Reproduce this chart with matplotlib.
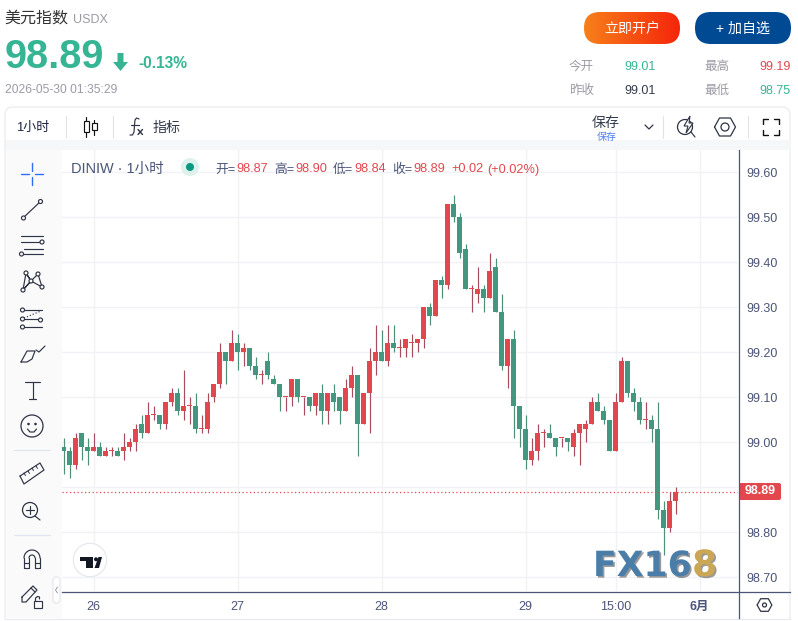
import numpy as np
import matplotlib
matplotlib.use("Agg")
import matplotlib.pyplot as plt
from matplotlib.patches import Circle, FancyBboxPatch, Rectangle, Polygon
import matplotlib.patheffects as pe

plt.rcParams['font.family'] = ['Liberation Sans', 'Noto Sans CJK SC', 'DejaVu Sans']

opens = [98.99, 98.98, 98.95, 99.02, 98.99, 98.98, 98.99, 98.97, 98.98, 98.98,
         98.98, 98.99, 99.00, 99.04, 99.02, 99.06, 99.06, 99.04, 99.09, 99.11,
         99.07, 99.08, 99.08, 99.03, 99.03, 99.10, 99.13, 99.20, 99.18, 99.22,
         99.20, 99.21, 99.17, 99.15, 99.18, 99.14, 99.13, 99.10, 99.10, 99.14,
         99.10, 99.10, 99.08, 99.11, 99.07, 99.11, 99.10, 99.07, 99.12, 99.15,
         99.04, 99.11, 99.18, 99.20, 99.18, 99.22, 99.21, 99.21, 99.22, 99.22,
         99.23, 99.30, 99.28, 99.36, 99.35, 99.53, 99.50, 99.43, 99.34, 99.33,
         99.34, 99.32, 99.39, 99.29, 99.17, 99.23, 99.08, 99.03, 98.96, 98.98,
         99.02, 99.02, 99.01, 99.01, 99.01, 98.99, 99.02, 99.03, 99.04, 99.09,
         99.07, 99.05, 98.98, 99.09, 99.18, 99.11, 99.09, 99.05, 99.05, 99.03,
         98.85, 98.81, 98.87]
highs = [99.01, 98.99, 99.02, 99.02, 99.01, 99.02, 99.00, 98.99, 98.99, 98.99,
         99.02, 99.01, 99.04, 99.06, 99.09, 99.08, 99.06, 99.09, 99.12, 99.12,
         99.16, 99.10, 99.11, 99.06, 99.11, 99.13, 99.22, 99.20, 99.25, 99.24,
         99.22, 99.21, 99.19, 99.16, 99.20, 99.15, 99.13, 99.10, 99.14, 99.14,
         99.10, 99.10, 99.11, 99.13, 99.11, 99.13, 99.10, 99.14, 99.17, 99.15,
         99.11, 99.21, 99.26, 99.25, 99.26, 99.26, 99.23, 99.23, 99.24, 99.23,
         99.30, 99.31, 99.36, 99.37, 99.53, 99.55, 99.51, 99.44, 99.35, 99.39,
         99.35, 99.42, 99.41, 99.33, 99.23, 99.25, 99.08, 99.06, 99.01, 99.04,
         99.03, 99.04, 99.01, 99.01, 99.01, 99.03, 99.04, 99.05, 99.10, 99.11,
         99.08, 99.05, 99.11, 99.19, 99.18, 99.12, 99.10, 99.09, 99.06, 99.09,
         98.87, 98.89, 98.90]
lows = [98.93, 98.92, 98.94, 98.96, 98.95, 98.98, 98.97, 98.97, 98.97, 98.97,
        98.96, 98.98, 98.98, 99.01, 99.02, 99.05, 99.03, 99.03, 99.08, 99.06,
        99.05, 99.04, 99.02, 99.02, 99.02, 99.09, 99.12, 99.13, 99.18, 99.16,
        99.17, 99.16, 99.14, 99.13, 99.14, 99.13, 99.07, 99.07, 99.08, 99.09,
        99.06, 99.07, 99.06, 99.04, 99.04, 99.07, 99.04, 99.07, 99.10, 98.97,
        99.04, 99.02, 99.15, 99.18, 99.17, 99.20, 99.19, 99.19, 99.19, 99.20,
        99.21, 99.26, 99.28, 99.32, 99.34, 99.49, 99.41, 99.34, 99.29, 99.31,
        99.29, 99.32, 99.29, 99.16, 99.12, 99.01, 98.99, 98.94, 98.95, 98.96,
        98.99, 99.01, 98.97, 98.99, 98.98, 98.97, 98.95, 99.00, 99.04, 99.07,
        99.04, 98.98, 98.98, 99.09, 99.10, 99.07, 99.04, 99.03, 99.00, 98.83,
        98.75, 98.80, 98.84]
closes = [98.98, 98.95, 99.01, 98.99, 98.98, 98.99, 98.97, 98.98, 98.98, 98.97,
          98.99, 99.00, 99.03, 99.02, 99.06, 99.06, 99.04, 99.09, 99.11, 99.07,
          99.08, 99.08, 99.03, 99.03, 99.09, 99.13, 99.20, 99.18, 99.22, 99.20,
          99.21, 99.17, 99.15, 99.15, 99.15, 99.13, 99.10, 99.10, 99.14, 99.10,
          99.10, 99.08, 99.11, 99.07, 99.11, 99.09, 99.07, 99.12, 99.15, 99.04,
          99.11, 99.18, 99.20, 99.18, 99.22, 99.21, 99.21, 99.23, 99.22, 99.23,
          99.30, 99.28, 99.36, 99.35, 99.53, 99.50, 99.42, 99.34, 99.34, 99.34,
          99.32, 99.38, 99.29, 99.17, 99.23, 99.08, 99.03, 98.96, 98.98, 99.02,
          99.02, 99.01, 98.99, 99.01, 99.00, 99.02, 99.04, 99.04, 99.09, 99.07,
          99.05, 98.98, 99.09, 99.18, 99.11, 99.09, 99.05, 99.05, 99.03, 98.85,
          98.81, 98.87, 98.89]

price_ticks = [98.70, 98.80, 98.90, 99.00, 99.10, 99.20, 99.30, 99.40, 99.50, 99.60]
time_positions = [5, 29, 53, 77, 92, 106]
time_labels = ["26", "27", "28", "29", "15:00", "6月"]
last_price = 98.89

UP = "#e2474e"
DOWN = "#44977f"
UP_WICK = "#a64d5d"
DOWN_WICK = "#4f8f76"
DARK = "#4a5578"
GREEN = "#35b593"
GREY = "#9a9aa5"
GRID = "#f1f2f5"

W, H = 798, 621
fig = plt.figure(figsize=(W / 100, H / 100), dpi=100, facecolor="white")


def px_axes(left, top, right, bottom):
    return fig.add_axes([left / W, 1 - bottom / H, (right - left) / W, (bottom - top) / H])


# background ui, chart, then overlay on top
bg = fig.add_axes([0, 0, 1, 1], zorder=0)
bg.set_xlim(0, W)
bg.set_ylim(H, 0)
bg.axis("off")

ax = px_axes(62, 150, 738, 591)
ax.set_zorder(1)
ax.patch.set_alpha(0)
ax.set_xlim((62 - 63.6) / 6, (738 - 63.6) / 6)
ax.set_ylim(99 + (442.3 - 591) / 450, 99 + (442.3 - 150) / 450)

ui = fig.add_axes([0, 0, 1, 1], zorder=2)
ui.set_xlim(0, W)
ui.set_ylim(H, 0)
ui.axis("off")
ui.patch.set_alpha(0)

# panel
bg.add_patch(FancyBboxPatch((5, 107), 785, 540, boxstyle="round,pad=0,rounding_size=8",
                            fc="white", ec="#e8e9ee", lw=0.8))
bg.add_patch(Rectangle((5.5, 140), 784, 10, fc="#f6f7f9", ec="none"))
bg.add_patch(Rectangle((5.5, 150), 56, 468, fc="#fafafb", ec="none"))
bg.add_patch(Rectangle((0, 619), W, 2, fc="white", ec="none", zorder=5))
bg.plot([5, 790], [618.5, 618.5], color="#e8e9ee", lw=0.8, zorder=6)

# candles
idx = np.arange(len(opens))
o = np.array(opens)
h = np.array(highs)
l = np.array(lows)
c = np.array(closes)
rising = c >= o
px_price = 1 / 450
ax.vlines(idx[rising], l[rising], h[rising], color=UP_WICK, lw=0.85, zorder=3)
ax.vlines(idx[~rising], l[~rising], h[~rising], color=DOWN_WICK, lw=0.85, zorder=3)
heights = np.maximum(np.abs(c - o), px_price)
bottoms = np.minimum(o, c)
ax.bar(idx[rising], heights[rising], bottom=bottoms[rising], width=5 / 6, color=UP, lw=0, zorder=4)
ax.bar(idx[~rising], heights[~rising], bottom=bottoms[~rising], width=5 / 6, color=DOWN, lw=0, zorder=4)

ax.axhline(last_price, color="#e2474e", lw=0.9, ls=(0, (1, 2)), zorder=5)

ax.set_yticks(price_ticks)
ax.set_yticklabels([f"{p:.2f}" for p in price_ticks])
ax.set_xticks(time_positions)
ax.set_xticklabels(time_labels)
ax.yaxis.tick_right()
ax.tick_params(axis="both", length=0, labelsize=9, labelcolor=DARK)
ax.tick_params(axis="y", pad=6)
ax.tick_params(axis="x", pad=7)
ax.grid(True, color=GRID, lw=1)
ax.set_axisbelow(True)
for s in ax.spines.values():
    s.set_visible(False)
ax.get_xticklabels()[-1].set_fontweight("bold")

# axis frame
ui.plot([738.5, 738.5], [150, 618], color=DARK, lw=0.9)
ui.plot([62, 790], [591.5, 591.5], color=DARK, lw=0.9)

# last price tag
ui.add_patch(FancyBboxPatch((739, 483), 42, 17, boxstyle="round,pad=0,rounding_size=2", fc="#e2474e", ec="none"))
ui.text(760, 491.5, "98.89", color="white", fontsize=9, fontweight="bold", ha="center", va="center")


def t(x, y, s, size, color="#333333", ha="left", weight="normal", target=ui):
    return target.text(x, y + 1, s, fontsize=size * 0.72, color=color, ha=ha, va="center", fontweight=weight)


def pl(xs, ys, color="#2e3345", lw=0.85, **kw):
    ui.plot(xs, ys, color=color, lw=lw, solid_capstyle="round", **kw)


def dot(x, y, r=2.2, color="#2e3345", fc="white", lw=0.85):
    ui.add_patch(Circle((x, y), r, fc=fc, ec=color, lw=lw, zorder=4))


# header
t(4.5, 17, "美元指数", 16, "#333333")
t(73, 19, "USDX", 12.5, GREY)
t(4.5, 56, "98.89", 39.8, GREEN, weight="bold")
ui.add_patch(Polygon([(117.5, 53), (123.5, 53), (123.5, 62), (128, 62), (120.5, 71), (113, 62), (117.5, 62)], fc=GREEN, ec="none"))
t(138, 63, "-0.13%", 15.5, GREEN, weight="bold")
t(5, 89, "2026-05-30 01:35:29", 12, GREY)

# buttons
btn = FancyBboxPatch((584, 12), 96, 32, boxstyle="round,pad=0,rounding_size=16", fc="none", ec="none")
ui.add_patch(btn)
grad = ui.imshow(np.linspace(0, 1, 96).reshape(1, -1), extent=(584, 680, 44, 12), aspect="auto",
                 cmap=matplotlib.colors.LinearSegmentedColormap.from_list("b", ["#f7801a", "#f5250a"]), zorder=2)
grad.set_clip_path(btn)
ui.set_xlim(0, W)
ui.set_ylim(H, 0)
t(632, 27.5, "立即开户", 14, "white", ha="center").set_zorder(5)
ui.add_patch(FancyBboxPatch((695, 12), 96, 32, boxstyle="round,pad=0,rounding_size=16", fc="#004a94", ec="none"))
t(743, 27.5, "+ 加自选", 14, "white", ha="center")

# stats
t(569, 66, "今开", 12.5, GREY)
t(624, 66, "99.01", 12.5, GREEN)
t(704, 66, "最高", 12.5, GREY)
t(759, 66, "99.19", 12.5, "#e2474e")
t(569, 90, "昨收", 12.5, GREY)
t(624, 90, "99.01", 12.5, "#333a4d")
t(704, 90, "最低", 12.5, GREY)
t(759, 90, "98.75", 12.5, GREEN)

# toolbar
t(16, 127, "1小时", 13, "#1a2340")
for x in [66, 113, 663, 748]:
    pl([x, x], [116, 138], color="#e0e2ea", lw=0.8)
pl([86, 86], [117, 137], color="#111111")
ui.add_patch(Rectangle((83.5, 121), 5, 11, fc="white", ec="#111111", lw=0.85, zorder=4))
pl([94, 94], [120, 135], color="#111111")
ui.add_patch(Rectangle((91.5, 123), 5, 7, fc="white", ec="#111111", lw=0.85, zorder=4))
# fx icon
pl([139, 136.5, 135, 134.5, 134, 132.5, 130], [119, 118, 120, 125, 132, 135, 135])
pl([130.5, 138.5], [125, 125])
pl([138, 142.5], [129.5, 134.5], lw=1)
pl([142.5, 138], [129.5, 134.5], lw=1)
t(153, 127, "指标", 14, "#333a4d")
t(592, 122, "保存", 14, "#333a4d")
t(597, 136, "保存", 10, "#4f7df5")
pl([645, 649, 653], [125, 129, 125], lw=0.9)
# lightning lens
ui.add_patch(Circle((685, 127), 7.5, fc="none", ec="#2e3345", lw=0.9))
ui.add_patch(Polygon([(690, 116), (684, 126), (688, 126), (686, 133), (693, 123), (689, 123)], fc="white", ec="#2e3345", lw=0.8, zorder=4))
pl([691, 695], [132, 137])
# settings hex
hex_x = np.array([-10.5, -5.5, 5.5, 10.5, 5.5, -5.5, -10.5])
hex_y = np.array([0, -9, -9, 0, 9, 9, 0])
pl(725 + hex_x, 127 + hex_y, lw=0.9)
ui.add_patch(Circle((725, 127), 4, fc="none", ec="#2e3345", lw=0.9))
# fullscreen corners
for sx, sy in [(-1, -1), (1, -1), (-1, 1), (1, 1)]:
    pl([771 + sx * 8, 771 + sx * 8, 771 + sx * 3], [127 + sy * 3, 127 + sy * 8, 127 + sy * 8], color="#111111", lw=1)

# legend row
ui.text(71, 173, "DINIW · 1小时", fontsize=14.5 * 0.72, color=DARK, ha="left", va="baseline")
ui.add_patch(Circle((190, 167), 9, fc="#dff1ec", ec="none"))
ui.add_patch(Circle((190, 167), 4, fc="#089981", ec="none"))
legend_parts = [(215, "开=", DARK), (236, "98.87", UP), (274, "高=", DARK), (295, "98.90", UP),
                (333, "低=", DARK), (354, "98.84", UP), (392, "收=", DARK), (413, "98.89", UP),
                (451, "+0.02", UP), (487, "(+0.02%)", UP)]
for x, s, col in legend_parts:
    ui.text(x, 172.5, s, fontsize=12.8 * 0.72, color=col, ha="left", va="baseline")

# drawing tools
for xs, ys in [([21, 29], [174, 174]), ([35, 43], [174, 174]), ([32, 32], [163, 171]), ([32, 32], [177, 185])]:
    pl(xs, ys, color="#2f6df6", lw=1)
pl([23, 41], [218, 201])
dot(23.5, 218, 2)
dot(40.5, 201.5, 2)
for y, a, b in [(236, 21, 43), (242, 21, 41), (249, 24, 43), (254, 23, 43)]:
    pl([a, b], [y, y])
dot(42, 242, 2)
dot(21.5, 254, 2)
pts_x = [23, 26, 31, 38, 42]
pts_y = [290, 273, 281, 274, 287]
pl([23, 26, 31, 38, 42, 31, 23, 31, 26], [290, 273, 281, 274, 287, 281, 290, 281, 273])
for x, y in zip(pts_x, pts_y):
    dot(x, y, 2)
for y in [310, 319, 327]:
    pl([22, 42], [y, y])
    dot(22.5, y, 2)
dot(40.5, 320, 2)
pl([24, 41], [318, 311], ls=":")
pl([21, 27, 35, 32, 27, 21], [362, 351, 351, 359, 362, 362])
pl([36, 39, 45], [350, 352, 346])
pl([25, 40], [382, 382])
pl([32.5, 32.5], [382, 399])
pl([29, 36], [399, 399])
ui.add_patch(Circle((32, 426), 11, fc="none", ec="#2e3345", lw=0.9))
dot(28.5, 424, 0.7, fc="#2e3345")
dot(35.5, 424, 0.7, fc="#2e3345")
pl([27.5, 30, 34, 36.5], [429, 432, 432, 429])
pl([14, 50], [450, 450], color="#e3e5ee", lw=0.9)
pl([20, 40, 44, 24, 20], [476, 463, 470, 484, 476])
for x, y in [(24, 473), (28, 471), (32, 468), (36, 466)]:
    pl([x, x + 1.5], [y, y + 2.5], lw=0.7)
ui.add_patch(Circle((30, 510), 7.5, fc="none", ec="#2e3345", lw=0.9))
pl([26, 34], [510, 510])
pl([30, 30], [506, 514])
pl([35, 40], [516, 520])
pl([14, 50], [535, 535], color="#e3e5ee", lw=0.9)
a = np.linspace(np.pi, 2 * np.pi, 20)
pl(32 + 8 * np.cos(a), 558 + 8 * np.sin(a))
pl(32 + 3 * np.cos(a), 558 + 3 * np.sin(a))
pl([24, 24, 29, 29], [558, 568, 568, 558])
pl([35, 35, 40, 40], [558, 568, 568, 558])
pl([24, 29], [563, 563])
pl([35, 40], [563, 563])
# pencil and lock
pl([22, 33, 37, 26, 22, 22], [597, 586, 590, 602, 602, 597])
pl([31, 35], [588, 592])
ui.add_patch(Rectangle((33.5, 601), 8.5, 6.5, fc="white", ec="#2e3345", lw=0.85, zorder=4))
pl([35.5, 35.5, 37.5, 39.5, 39.5], [601, 598, 596.5, 597, 599])
ui.add_patch(FancyBboxPatch((53, 577), 7, 26, boxstyle="round,pad=0,rounding_size=3", fc="white", ec="#e3e5ee", lw=0.8))
pl([57.5, 55.5, 57.5], [587, 590, 593], color="#9a9aa5", lw=0.7)

# settings under price scale
pl(764.5 + hex_x * 0.7, 605 + hex_y * 0.7, lw=0.9)
ui.add_patch(Circle((764.5, 605), 2, fc="none", ec="#2e3345", lw=0.9))

# tv logo
ui.add_patch(Circle((90, 560), 16.7, fc="white", ec="#e6e8f0", lw=0.9))
ui.add_patch(Polygon([(80, 557), (93, 557), (93, 568), (86, 568), (86, 561), (80, 561)], fc="#131722", ec="none"))
ui.add_patch(Circle((96, 559.3), 2, fc="#131722", ec="none"))
ui.add_patch(Polygon([(98.5, 557), (102, 557), (99, 568), (94.5, 568)], fc="#131722", ec="none"))

# watermark
shadow = [pe.SimplePatchShadow(offset=(1.2, -1.2), shadow_rgbFace="#555555", alpha=0.6), pe.Normal()]
ui.text(593, 566, "FX16", fontsize=25, family="DejaVu Sans", fontweight="bold", color="#4a7ea8",
        ha="left", va="center", path_effects=shadow, zorder=6)
ui.text(692, 566, "8", fontsize=26, family="DejaVu Sans", fontweight="bold", color="#cba653",
        ha="left", va="center", path_effects=shadow, zorder=6)

fig.savefig("out.png", dpi=100)
